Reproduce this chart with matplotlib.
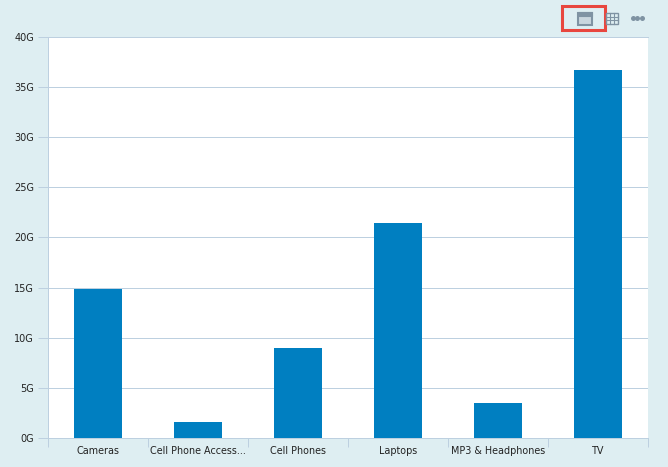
import matplotlib
matplotlib.use("Agg")
import matplotlib.pyplot as plt
from matplotlib.patches import Rectangle

categories = ["Cameras", "Cell Phone Access...", "Cell Phones", "Laptops", "MP3 & Headphones", "TV"]
values = [14.9, 1.6, 9.0, 21.4, 3.5, 36.7]
yticks = [0, 5, 10, 15, 20, 25, 30, 35, 40]
ylabels = ["0G", "5G", "10G", "15G", "20G", "25G", "30G", "35G", "40G"]

W, H = 668, 467
BG = "#DEEEF2"
LINE = "#BDD0E0"
BAR = "#007FC1"
TXT = "#222222"

plt.rcParams["font.family"] = "DejaVu Sans"
fig = plt.figure(figsize=(W / 100, H / 100), dpi=100, facecolor=BG)
ax = fig.add_axes([48 / W, 1 - 438 / H, 600 / W, 401 / H], facecolor="white")
ax.bar(range(len(values)), values, width=0.48, color=BAR, zorder=3)
ax.set_xlim(-0.5, len(values) - 0.5)
ax.set_ylim(0, 40)
ax.set_yticks(yticks)
ax.set_yticklabels(ylabels, fontsize=7, color=TXT)
ax.set_xticks([i - 0.5 for i in range(len(values) + 1)])
ax.set_xticklabels([])
ax.set_xticks(range(len(values)), minor=True)
ax.set_xticklabels(categories, minor=True, fontsize=6.9, color=TXT)
ax.tick_params(axis="x", which="major", length=6.5, color=LINE, width=0.72)
ax.tick_params(axis="x", which="minor", length=0, pad=6)
ax.tick_params(axis="y", length=7, color=LINE, width=0.72, pad=3)
ax.grid(axis="y", color=LINE, linewidth=0.72, zorder=1)
ax.set_axisbelow(True)
for s in ("top", "bottom", "left"):
    ax.spines[s].set_color(LINE)
    ax.spines[s].set_linewidth(0.72)
ax.spines["right"].set_visible(False)


def px_rect(x, y, w, h, **kw):
    fig.add_artist(Rectangle((x / W, 1 - (y + h) / H), w / W, h / H,
                             transform=fig.transFigure, **kw))


GREY = "#7F93A3"
# highlight box
px_rect(562, 6, 43, 24, fill=False, edgecolor="#E8473F", linewidth=2.2)
# window icon
px_rect(578, 12.5, 14, 12, facecolor="#C9D6DE", edgecolor=GREY, linewidth=1.5)
px_rect(578, 12.5, 14, 3, facecolor=GREY, edgecolor=GREY, linewidth=0.8)
# table icon
px_rect(606, 12.5, 12, 11.5, facecolor="none", edgecolor=GREY, linewidth=1)
for gx in (610, 614):
    fig.add_artist(plt.Line2D([gx / W, gx / W], [1 - 12.5 / H, 1 - 24 / H], color=GREY, lw=0.8))
for gy in (16.5, 20):
    fig.add_artist(plt.Line2D([606 / W, 618 / W], [1 - gy / H, 1 - gy / H], color=GREY, lw=0.8))
# dots icon
for dx in (632.5, 637, 641.5):
    fig.add_artist(plt.Line2D([dx / W], [1 - 18 / H], marker="o", ms=3.6, color=GREY, mec="none"))

fig.savefig("out.png", dpi=100, facecolor=fig.get_facecolor())
